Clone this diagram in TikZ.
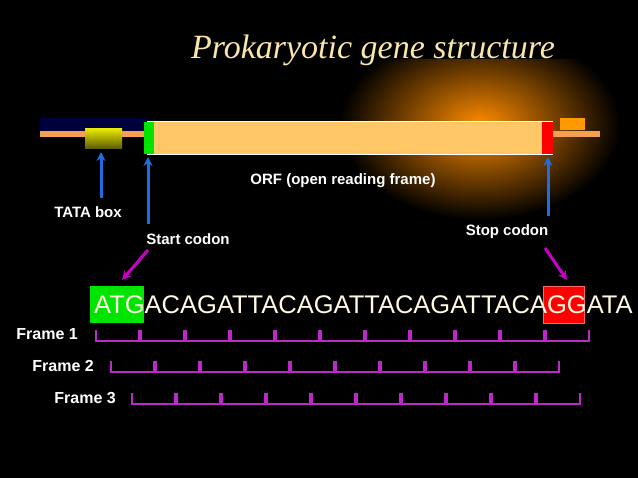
\documentclass[tikz,border=0pt]{standalone}
\usepackage{fontspec}
\setmainfont{Liberation Sans}
\newfontfamily\titlefont{Liberation Serif}
\usetikzlibrary{arrows.meta}
\definecolor{cblue}{RGB}{30,110,225}
\definecolor{cmag}{RGB}{200,0,200}
\definecolor{cbrk}{RGB}{190,40,200}
\definecolor{ctitle}{RGB}{250,230,170}
\definecolor{cnavy}{RGB}{0,0,60}
\definecolor{cline}{RGB}{245,160,80}
\definecolor{corf}{RGB}{255,199,102}
\definecolor{cseq}{RGB}{255,250,225}
\begin{document}
\begin{tikzpicture}[x=1pt,y=-1pt,
 lbl/.style={text=white,font=\bfseries\fontsize{15}{17}\selectfont,inner sep=0},
 frm/.style={text=white,font=\bfseries\fontsize{16}{18}\selectfont,inner sep=0,anchor=east},
 barr/.style={draw=cblue,line width=3pt,-{Stealth[length=9pt,width=9pt]}},
 marr/.style={draw=cmag,line width=3pt,-{Stealth[length=9pt,width=9pt]}},
 brk/.style={draw=cbrk,line width=2pt}]
\fill[black] (0,0) rectangle (638,478);
\useasboundingbox (0,0) rectangle (638,478);
% glow
\begin{scope}
\clip (0,60) rectangle (638,240);
\shade[inner color=orange!90!yellow,outer color=black] (480,125) ellipse (140 and 95);
\end{scope}
\fill[orange!80!yellow] (560,118) rectangle (585,130);
\node[font=\titlefont\itshape\fontsize{34}{38}\selectfont,text=ctitle] (title) at (373,50) {Prokaryotic gene structure};
% bar
\fill[cnavy] (40,118) rectangle (147,132);
\fill[cline] (40,131) rectangle (600,137);
\shade[top color=yellow!80!olive,bottom color=olive!70!black,draw=none] (85,129) rectangle (122,149);
\node[draw=white,line width=0.6pt,fill=corf,minimum width=405,minimum height=33,inner sep=0] (orf) at (349.5,137.5) {};
\fill[green!90!black] (144,122) rectangle (154,154);
\fill[red] (542,122) rectangle (553,154);
\coordinate (tata) at (101,152);
\coordinate (start) at (148,157);
\coordinate (stop) at (548,157);
\node[lbl] (l1) at (88,212) {TATA box};
\node[lbl] (l2) at (188,239) {Start codon};
\node[lbl] (l3) at (343,181) {ORF (open reading frame)};
\node[lbl] (l4) at (507,232) {Stop codon};
\coordinate (a1) at (101,198);
\coordinate (a2) at (148,224);
\coordinate (a3) at (548,216);
\draw[barr] (a1) -- (tata);
\draw[barr] (a2) -- (start);
\draw[barr] (a3) -- (stop);
% sequence
\fill[green!90!black] (90,286) rectangle (144,323);
\fill[red,draw=red!60!white] (543,286) rectangle (584,323);
\coordinate (m1) at (148,250); \coordinate (m2) at (122,280);
\coordinate (m3) at (545,248); \coordinate (m4) at (567,280);
\draw[marr] (m1) -- (m2);
\draw[marr] (m3) -- (m4);
\node[anchor=west,inner sep=0,text=cseq,font=\fontsize{25.5}{28}\selectfont] (seq) at (94,305) {ATGACAGATTACAGATTACAGATTACAGGATA};
\node[frm] (f1) at (78,334) {Frame 1};
\node[frm] (f2) at (94,366) {Frame 2};
\node[frm] (f3) at (116,398) {Frame 3};
\foreach \i in {0,...,10}{\draw[brk] ({96+45*\i},330) -- ({96+45*\i},341) -- ({139+45*\i},341) -- ({139+45*\i},330);}
\foreach \i in {0,...,9}{\draw[brk] ({111+45*\i},361) -- ({111+45*\i},372) -- ({154+45*\i},372) -- ({154+45*\i},361);}
\foreach \i in {0,...,9}{\draw[brk] ({132+45*\i},393) -- ({132+45*\i},404) -- ({175+45*\i},404) -- ({175+45*\i},393);}
\end{tikzpicture}
\end{document}
